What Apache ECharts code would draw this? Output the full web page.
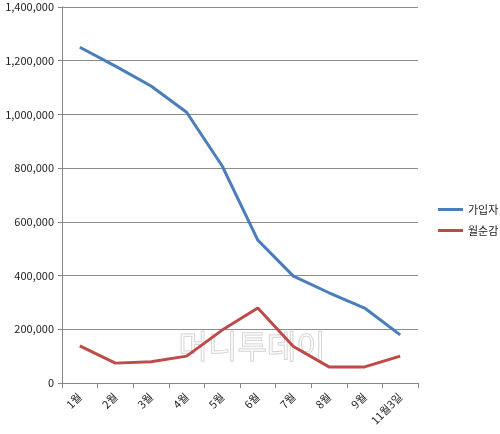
<!DOCTYPE html>
<html>
<head>
<meta charset="utf-8">
<script src="https://cdn.jsdelivr.net/npm/echarts@6/dist/echarts.min.js"></script>
<style>
html, body { margin: 0; padding: 0; background: #fff; }
#chart { width: 500px; height: 434px; }
</style>
</head>
<body>
<div id="chart"></div>
<script>
// 월별 가입자 / 월순감
var months = ['1월', '2월', '3월', '4월', '5월', '6월', '7월', '8월', '9월', '11월3일'];
var joiners = [1250000, 1180000, 1106000, 1008000, 808000, 532000, 398000, 336000, 279000, 179000];
var netLoss = [138000, 74000, 79000, 100000, 197000, 279000, 136000, 60000, 60000, 100000];
var yTicks = [0, 200000, 400000, 600000, 800000, 1000000, 1200000, 1400000];

var fontFam = '"Noto Sans CJK KR", "DejaVu Sans", sans-serif';

var myChart = echarts.init(document.getElementById('chart'));
var option = {
	animation: false,
	textStyle: { fontFamily: fontFam },
	legend: {
		orient: 'vertical',
		left: 433,
		top: 199,
		itemWidth: 25,
		itemHeight: 3,
		itemGap: 10,
		icon: 'rect',
		textStyle: { fontSize: 11, color: '#222', fontFamily: fontFam },
		data: ['가입자', '월순감']
	},
	grid: { left: 62, right: 82, top: 7, bottom: 51, containLabel: false },
	xAxis: {
		type: 'category',
		data: months,
		boundaryGap: true,
		axisLine: { lineStyle: { color: '#868686', width: 1 } },
		axisTick: { show: true, alignWithLabel: false, length: 5, lineStyle: { color: '#868686' } },
		axisLabel: { rotate: 45, fontSize: 11, color: '#222', margin: 12, interval: 0 }
	},
	yAxis: {
		type: 'value',
		min: yTicks[0],
		max: yTicks[yTicks.length - 1],
		interval: 200000,
		axisLine: { show: true, lineStyle: { color: '#868686', width: 1 } },
		axisTick: { show: true, length: 4, lineStyle: { color: '#868686' } },
		axisLabel: {
			fontSize: 11,
			color: '#222',
			margin: 8,
			formatter: function (v) { return v.toLocaleString('en-US'); }
		},
		splitLine: { show: true, lineStyle: { color: '#8c8c8c', width: 1 } }
	},
	graphic: [{
		type: 'text',
		left: 178,
		top: 329,
		z: 1,
		style: {
			text: '머니투데이',
			font: '32px "Noto Sans CJK KR"',
			fill: 'rgba(255,255,255,0.4)',
			stroke: 'rgba(150,150,150,0.5)',
			lineWidth: 1
		}
	}],
	series: [
		{
			name: '가입자',
			type: 'line',
			data: joiners,
			symbol: 'none',
			lineStyle: { color: '#4a7ebb', width: 3 },
			itemStyle: { color: '#4a7ebb' },
			z: 3
		},
		{
			name: '월순감',
			type: 'line',
			data: netLoss,
			symbol: 'none',
			lineStyle: { color: '#be4b48', width: 3 },
			itemStyle: { color: '#be4b48' },
			z: 3
		}
	]
};
myChart.setOption(option);
</script>
</body>
</html>
